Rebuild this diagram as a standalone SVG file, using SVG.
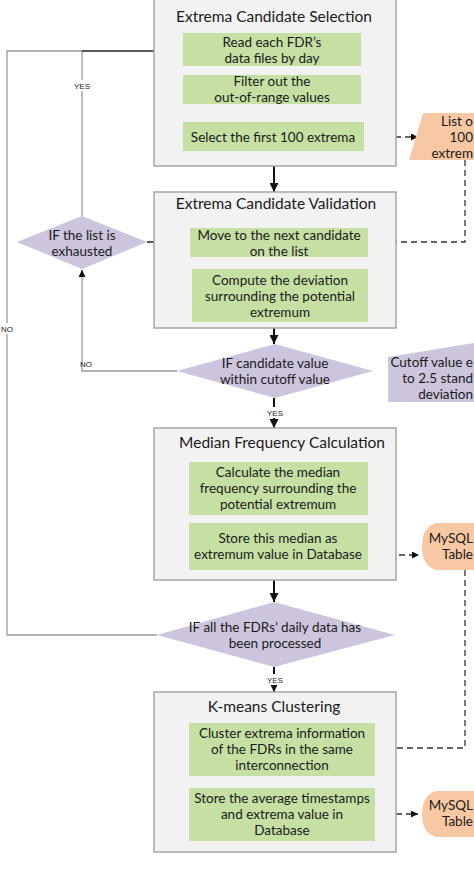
<svg xmlns="http://www.w3.org/2000/svg" width="474" height="872" viewBox="0 0 474 872">
<defs>
<marker id="ah" viewBox="0 0 10 10" refX="10" refY="5" markerWidth="7" markerHeight="7" markerUnits="userSpaceOnUse" orient="auto"><path d="M0,0 L10,5 L0,10 Z" fill="#111"/></marker>
<marker id="ahb" viewBox="0 0 10 10" refX="10" refY="5" markerWidth="9" markerHeight="9" markerUnits="userSpaceOnUse" orient="auto"><path d="M0,0 L10,5 L0,10 Z" fill="#111"/></marker>
<style>
.box{fill:#f2f2f2;stroke:#a6a6a6;stroke-width:1.5}
.g{fill:#c6e0a4}
.dia{fill:#cdc5dd}
.or{fill:#f7c8a3}
.t{font-family:Lato,"Open Sans",sans-serif;font-size:13.5px;fill:#1a1a1a;text-anchor:middle}
.tr{font-family:Lato,"Open Sans",sans-serif;font-size:13.5px;fill:#1a1a1a;text-anchor:end}
.h{font-family:Lato,"Open Sans",sans-serif;font-size:15.5px;fill:#1a1a1a;text-anchor:middle}
.s{font-family:"Liberation Sans",Arial,sans-serif;font-size:8px;fill:#222;text-anchor:middle}
.gl{fill:none;stroke:#9a9a9a;stroke-width:1.3}
.bl{fill:none;stroke:#222;stroke-width:1.3}
.main{fill:none;stroke:#111;stroke-width:2}
.dash{fill:none;stroke:#333;stroke-width:1.3;stroke-dasharray:6,4}
</style>
</defs>

<g id="connectors">
<path class="gl" d="M157,635 H7 V51 H82"/>
<path class="gl" d="M82,216 V51"/>
<path class="bl" d="M82,51 H183" marker-end="url(#ah)"/>
<path class="bl" d="M147,242 H190" marker-end="url(#ah)"/>
<path class="gl" d="M177,371 H82 V276"/>
<path class="bl" d="M82,277 V270" marker-end="url(#ah)"/>
<path class="main" d="M274,166 V192" marker-end="url(#ahb)"/>
<path class="main" d="M274,328 V344" marker-end="url(#ahb)"/>
<path class="main" d="M274,398 V428" marker-end="url(#ahb)"/>
<path class="main" d="M274,580 V602" marker-end="url(#ahb)"/>
<path class="main" d="M274,667 V692" marker-end="url(#ahb)"/>
<path class="dash" d="M365,137 H418" marker-end="url(#ah)"/>
<path class="dash" d="M465,160 V242 H370" marker-end="url(#ah)"/>
<path class="dash" d="M369,555 H419" marker-end="url(#ah)"/>
<path class="dash" d="M465,570 V748 H375" marker-end="url(#ah)"/>
<path class="dash" d="M376,814 H418" marker-end="url(#ah)"/>
<rect x="72" y="80" width="20" height="11" fill="#fff"/>
<text class="s" x="82" y="88.5">YES</text>
<rect x="0" y="323" width="14" height="11" fill="#fff"/>
<text class="s" x="7" y="331.5">NO</text>
<rect x="159" y="237" width="16" height="11" fill="#fff"/>
<text class="s" x="167" y="245.5">NO</text>
<text class="s" x="86" y="366.5">NO</text>
<rect x="264" y="407" width="22" height="11" fill="#fff"/>
<text class="s" x="275" y="415.5">YES</text>
<rect x="264" y="674" width="22" height="11" fill="#fff"/>
<text class="s" x="275" y="682.5">YES</text>
</g>

<g id="selection">
<rect class="box" x="154" y="-5" width="242" height="171"/>
<text class="h" x="274" y="22">Extrema Candidate Selection</text>
<rect class="g" x="183" y="33" width="178" height="33"/>
<text class="t" x="272" y="46.5">Read each FDR’s</text>
<text class="t" x="272" y="62.5">data files by day</text>
<rect class="g" x="183" y="75" width="178" height="29"/>
<text class="t" x="272" y="85.5">Filter out the</text>
<text class="t" x="272" y="101.5">out-of-range values</text>
<rect class="g" x="183" y="122" width="181" height="29"/>
<text class="t" x="273" y="141.5">Select the first 100 extrema</text>
</g>

<g id="list">
<path class="or" d="M423,113 H474 V160 H409 Z"/>
<text class="tr" x="473" y="125.5">List o</text>
<text class="tr" x="473" y="141.5">100</text>
<text class="tr" x="473" y="157.5">extrem</text>
</g>

<g id="validation">
<rect class="box" x="154" y="192" width="242" height="136"/>
<text class="h" x="276" y="209">Extrema Candidate Validation</text>
<rect class="g" x="190" y="228" width="178" height="29"/>
<text class="t" x="279" y="240">Move to the next candidate</text>
<text class="t" x="279" y="256">on the list</text>
<rect class="g" x="192" y="269" width="176" height="53"/>
<text class="t" x="280" y="284.5">Compute the deviation</text>
<text class="t" x="280" y="300.5">surrounding the potential</text>
<text class="t" x="280" y="316.5">extremum</text>
</g>

<g id="exhausted">
<path class="dia" d="M82,216 L147,242 L82,269 L17,242 Z"/>
<text class="t" x="82" y="239.5">IF the list is</text>
<text class="t" x="82" y="255.5">exhausted</text>
</g>

<g id="cutoffcheck">
<path class="dia" d="M275,344 L373,371 L275,398 L177,371 Z"/>
<text class="t" x="275" y="367.5">IF candidate value</text>
<text class="t" x="275" y="383.5">within cutoff value</text>
</g>

<g id="cutoff">
<path class="dia" d="M388,357 L474,343 V402 H388 Z"/>
<text class="tr" x="473" y="367">Cutoff value e</text>
<text class="tr" x="473" y="383">to 2.5 stand</text>
<text class="tr" x="473" y="399">deviation</text>
</g>

<g id="median">
<rect class="box" x="154" y="428" width="242" height="152"/>
<text class="h" x="282" y="448">Median Frequency Calculation</text>
<rect class="g" x="189" y="462" width="179" height="53"/>
<text class="t" x="278" y="476.5">Calculate the median</text>
<text class="t" x="278" y="492.5">frequency surrounding the</text>
<text class="t" x="278" y="508.5">potential extremum</text>
<rect class="g" x="189" y="523" width="179" height="47"/>
<text class="t" x="278" y="542.5">Store this median as</text>
<text class="t" x="278" y="558.5">extremum value in Database</text>
</g>

<g id="mysql1">
<path class="or" d="M436,523 H474 V570 H436 Q422,566 422,546.5 Q422,527 436,523 Z"/>
<text class="tr" x="473" y="542.5">MySQL</text>
<text class="tr" x="473" y="558.5">Table</text>
</g>

<g id="processed">
<path class="dia" d="M274,602 L395,635 L274,667 L157,635 Z"/>
<text class="t" x="275" y="632">IF all the FDRs’ daily data has</text>
<text class="t" x="275" y="648">been processed</text>
</g>

<g id="kmeans">
<rect class="box" x="154" y="692" width="242" height="160"/>
<text class="h" x="274" y="712">K-means Clustering</text>
<rect class="g" x="189" y="723" width="186" height="53"/>
<text class="t" x="282" y="737.5">Cluster extrema information</text>
<text class="t" x="282" y="753.5">of the FDRs in the same</text>
<text class="t" x="282" y="769.5">interconnection</text>
<rect class="g" x="189" y="788" width="186" height="53"/>
<text class="t" x="282" y="802.5">Store the average timestamps</text>
<text class="t" x="282" y="818.5">and extrema value in</text>
<text class="t" x="282" y="834.5">Database</text>
</g>

<g id="mysql2">
<path class="or" d="M436,791 H474 V837 H436 Q422,833 422,814 Q422,795 436,791 Z"/>
<text class="tr" x="473" y="809.5">MySQL</text>
<text class="tr" x="473" y="825.5">Table</text>
</g>
</svg>
